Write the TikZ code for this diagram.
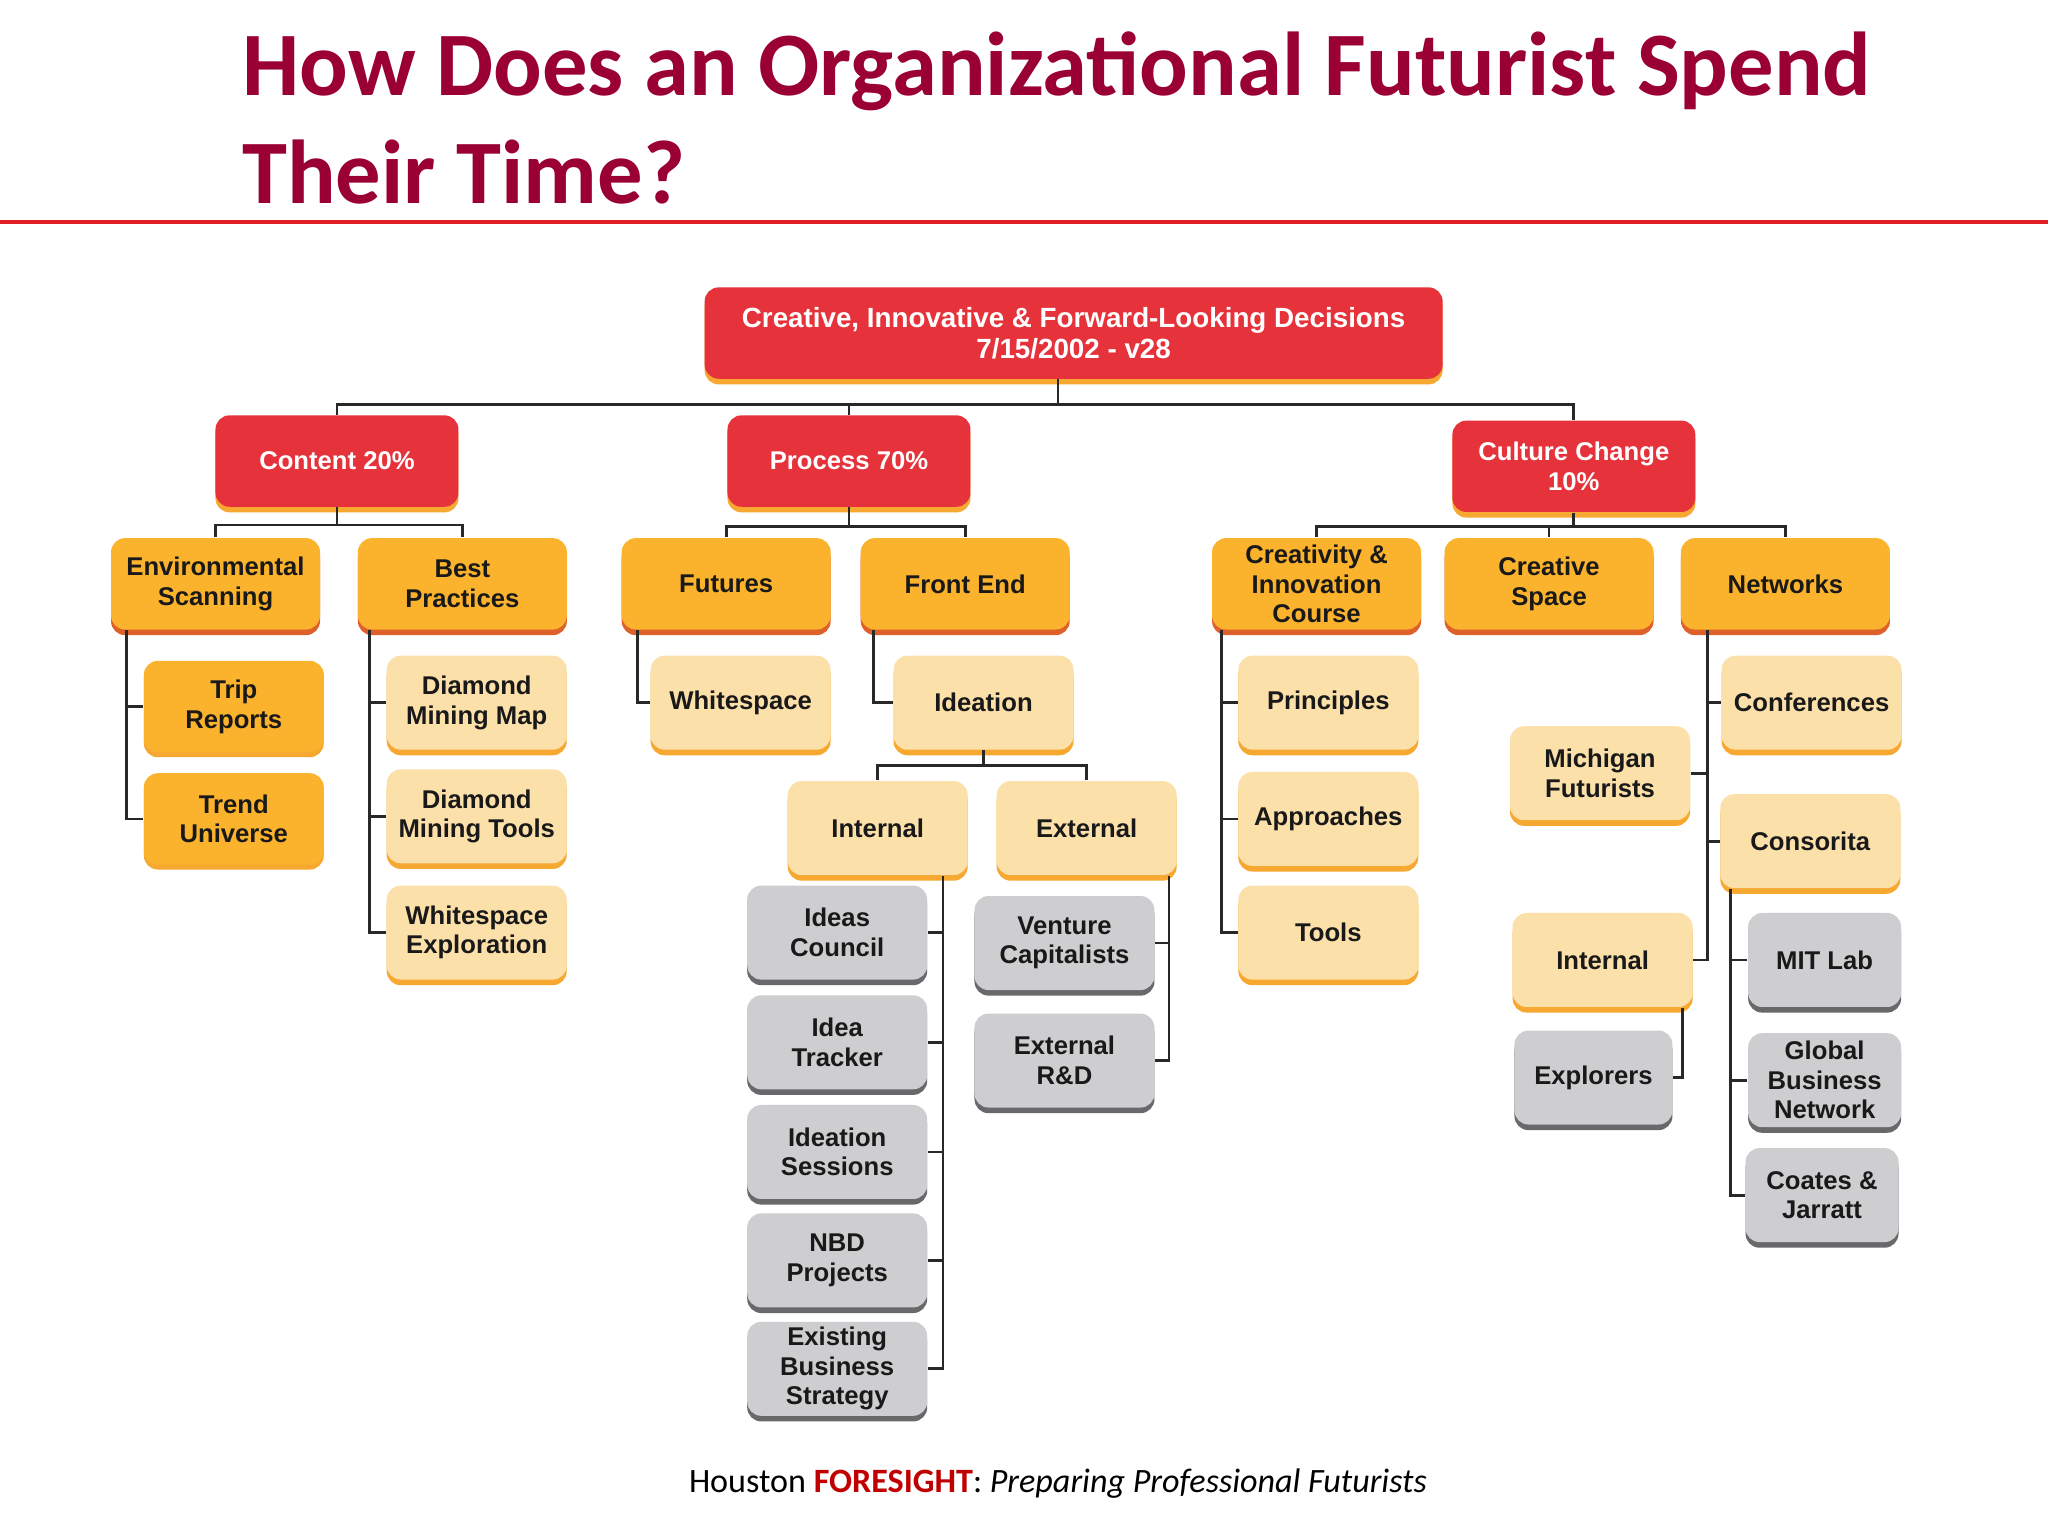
\documentclass[tikz,border=0pt]{standalone}
\usepackage{fontspec}
\setmainfont{Carlito}
\newfontfamily\boxfont{Liberation Sans}
\usetikzlibrary{shadows}

\definecolor{titlered}{RGB}{155,0,52}
\definecolor{rulered}{RGB}{224,32,38}
\definecolor{footred}{RGB}{192,0,0}
\definecolor{boxred}{RGB}{230,50,58}
\definecolor{boxorange}{RGB}{251,178,44}
\definecolor{boxlight}{RGB}{252,224,170}
\definecolor{boxgray}{RGB}{206,206,208}
\definecolor{linkgray}{RGB}{40,40,40}
\definecolor{shadeorange}{RGB}{246,168,48}
\definecolor{shadered}{RGB}{222,96,42}
\definecolor{shadegray}{RGB}{105,105,108}

\tikzset{
  box/.style={rounded corners=4pt, align=center, inner sep=1pt, text=black!90,
    font=\boxfont\bfseries\fontsize{7.3}{8.4}\selectfont},
  topbox/.style={box, fill=boxred, text=white, minimum height=0.914cm,
    drop shadow={shadow xshift=0pt, shadow yshift=-1.6pt, opacity=1, fill=shadeorange}},
  orangebox/.style={box, fill=boxorange, minimum width=2.09cm, minimum height=0.914cm,
    drop shadow={shadow xshift=0pt, shadow yshift=-1.6pt, opacity=1, fill=shadered}},
  subbox/.style={box, fill=boxorange, minimum width=1.80cm, minimum height=0.914cm,
    drop shadow={shadow xshift=0pt, shadow yshift=-1.4pt, opacity=1, fill=shadeorange}},
  lightbox/.style={box, fill=boxlight, minimum width=1.80cm, minimum height=0.94cm,
    drop shadow={shadow xshift=0pt, shadow yshift=-1.6pt, opacity=1, fill=shadeorange}},
  graybox/.style={box, fill=boxgray, minimum width=1.80cm, minimum height=0.94cm,
    drop shadow={shadow xshift=0pt, shadow yshift=-1.6pt, opacity=1, fill=shadegray}},
  link/.style={draw=linkgray, line width=0.8pt}
}

\begin{document}
\begin{tikzpicture}[x=0.013061cm, y=-0.013061cm]
  \useasboundingbox[fill=white] (0,0) rectangle (1568,1176);

  \node[anchor=base west, text=titlered, font=\bfseries\fontsize{25.8}{30}\selectfont, inner sep=0pt]
    (title1) at (185,73) {How Does an Organizational Futurist Spend};
  \node[anchor=base west, text=titlered, font=\bfseries\fontsize{25.8}{30}\selectfont, inner sep=0pt]
    (title2) at (185,156) {Their Time?};
  \coordinate (ruleL) at (0,170);
  \coordinate (ruleR) at (1568,170);
  \draw[rulered, line width=1pt] (ruleL) -- (ruleR);

  \node[topbox, minimum width=7.38cm, font=\boxfont\bfseries\fontsize{7.9}{8.8}\selectfont] (root) at (822,255)
    {Creative, Innovative \& Forward-Looking Decisions\\7/15/2002 - v28};

  \node[topbox, minimum width=2.43cm] (content) at (258,353) {Content 20\%};
  \node[topbox, minimum width=2.43cm] (process) at (650,353) {Process 70\%};
  \node[topbox, minimum width=2.43cm] (culture) at (1205,357) {Culture Change\\10\%};

  \node[orangebox] (envscan) at (165,447) {Environmental\\Scanning};
  \node[orangebox] (bestprac) at (354,447) {Best\\Practices};
  \node[subbox] (trip) at (179,541) {Trip\\Reports};
  \node[subbox] (trend) at (179,627) {Trend\\Universe};
  \node[lightbox] (dmap) at (365,538) {Diamond\\Mining Map};
  \node[lightbox] (dtools) at (365,625) {Diamond\\Mining Tools};
  \node[lightbox] (wsexp) at (365,714) {Whitespace\\Exploration};

  \node[orangebox] (futures) at (556,447) {Futures};
  \node[orangebox] (frontend) at (739,447) {Front End};
  \node[lightbox] (whitesp) at (567,538) {Whitespace};
  \node[lightbox] (ideation) at (753,538) {Ideation};
  \node[lightbox] (intern) at (672,634) {Internal};
  \node[lightbox] (extern) at (832,634) {External};
  \node[graybox] (council) at (641,714) {Ideas\\Council};
  \node[graybox] (tracker) at (641,798) {Idea\\Tracker};
  \node[graybox] (sessions) at (641,882) {Ideation\\Sessions};
  \node[graybox] (nbd) at (641,965) {NBD\\Projects};
  \node[graybox] (existing) at (641,1048) {Existing\\Business\\Strategy};
  \node[graybox] (venture) at (815,722) {Venture\\Capitalists};
  \node[graybox] (extrd) at (815,812) {External\\R\&D};

  \node[orangebox] (ccourse) at (1008,447) {Creativity \&\\Innovation\\Course};
  \node[orangebox] (cspace) at (1186,447) {Creative\\Space};
  \node[orangebox] (networks) at (1367,447) {Networks};
  \node[lightbox] (principles) at (1017,538) {Principles};
  \node[lightbox] (approaches) at (1017,627) {Approaches};
  \node[lightbox] (tools) at (1017,714) {Tools};
  \node[lightbox] (conf) at (1387,538) {Conferences};
  \node[lightbox] (michigan) at (1225,592) {Michigan\\Futurists};
  \node[lightbox] (consorita) at (1386,644) {Consorita};
  \node[lightbox] (intern2) at (1227,735) {Internal};
  \node[graybox, minimum width=1.58cm] (explorers) at (1220,825) {Explorers};
  \node[graybox, minimum width=1.53cm] (mitlab) at (1397,735) {MIT Lab};
  \node[graybox, minimum width=1.53cm] (gbn) at (1397,827) {Global\\Business\\Network};
  \node[graybox, minimum width=1.53cm] (coates) at (1395,915) {Coates \&\\Jarratt};

  \draw[link] (root.south -| 810,0) -- (810,310);
  \draw[link] (content.north) |- (810,310) -| (culture.north);
  \draw[link] (process.north) -- (process.north |- 0,310);

  \draw[link] (content.south) -- (content.south |- 0,402);
  \draw[link] (envscan.north) |- (content.south |- 0,402) -| (bestprac.north);
  \draw[link] (envscan.south -| 97,0) |- (trend.west);
  \draw[link] (trip.west) -- (trip.west -| 97,0);
  \draw[link] (bestprac.south -| 283,0) |- (wsexp.west);
  \draw[link] (dmap.west) -- (dmap.west -| 283,0);
  \draw[link] (dtools.west) -- (dtools.west -| 283,0);

  \draw[link] (process.south) -- (process.south |- 0,403);
  \draw[link] (futures.north) |- (process.south |- 0,403) -| (frontend.north);
  \draw[link] (futures.south -| 488,0) |- (whitesp.west);
  \draw[link] (frontend.south -| 669,0) |- (ideation.west);
  \draw[link] (ideation.south) -- (ideation.south |- 0,586);
  \draw[link] (intern.north) |- (ideation.south |- 0,586) -| (extern.north);
  \draw[link] (intern.south -| 722,0) |- (existing.east);
  \draw[link] (council.east) -- (council.east -| 722,0);
  \draw[link] (tracker.east) -- (tracker.east -| 722,0);
  \draw[link] (sessions.east) -- (sessions.east -| 722,0);
  \draw[link] (nbd.east) -- (nbd.east -| 722,0);
  \draw[link] (extern.south -| 895,0) |- (extrd.east);
  \draw[link] (venture.east) -- (venture.east -| 895,0);

  \draw[link] (culture.south) -- (culture.south |- 0,403);
  \draw[link] (ccourse.north) |- (culture.south |- 0,403) -| (networks.north);
  \draw[link] (cspace.north) -- (cspace.north |- 0,403);
  \draw[link] (ccourse.south -| 935,0) |- (tools.west);
  \draw[link] (principles.west) -- (principles.west -| 935,0);
  \draw[link] (approaches.west) -- (approaches.west -| 935,0);
  \draw[link] (networks.south -| 1307,0) |- (intern2.east);
  \draw[link] (conf.west) -- (conf.west -| 1307,0);
  \draw[link] (michigan.east) -- (michigan.east -| 1307,0);
  \draw[link] (consorita.west) -- (consorita.west -| 1307,0);
  \draw[link] (intern2.south -| 1288,0) |- (explorers.east);
  \draw[link] (consorita.south -| 1325,0) |- (coates.west);
  \draw[link] (mitlab.west) -- (mitlab.west -| 1325,0);
  \draw[link] (gbn.west) -- (gbn.west -| 1325,0);

  \node[anchor=base, font=\fontsize{9.7}{12}\selectfont, inner sep=0pt] (footer) at (810,1143)
    {Houston \textbf{\textcolor{footred}{FORESIGHT}}: \textit{Preparing Professional Futurists}};
\end{tikzpicture}
\end{document}
